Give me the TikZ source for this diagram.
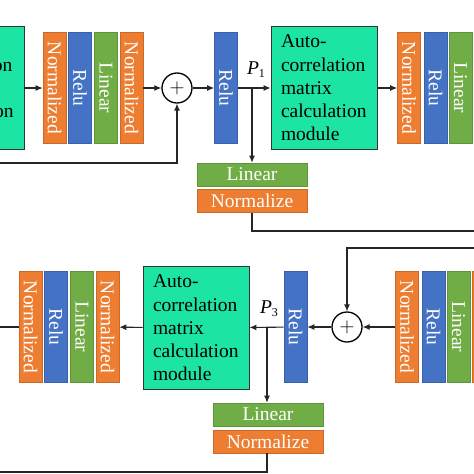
\documentclass[tikz,border=0pt]{standalone}
\usepackage{fontspec}
\setmainfont{Liberation Serif}
\usetikzlibrary{arrows.meta}
\definecolor{cor}{RGB}{237,125,49}
\definecolor{cbl}{RGB}{68,114,196}
\definecolor{cgr}{RGB}{112,173,71}
\definecolor{cte}{RGB}{28,228,165}
\tikzset{
  bar/.style={minimum width=23pt, minimum height=111pt, inner sep=0pt, text=white,
    font=\fontsize{19.5}{23}\selectfont, line width=0.6pt},
  ob/.style={bar, fill=cor, draw=cor!85!black},
  bb/.style={bar, fill=cbl, draw=cbl!85!black},
  gb/.style={bar, fill=cgr, draw=cgr!85!black},
  hbar/.style={minimum width=110pt, minimum height=23pt, inner sep=0pt, text=white,
    font=\fontsize{19.5}{23}\selectfont, line width=0.6pt},
  acm/.style={fill=cte, draw=black!80, line width=0.9pt, minimum width=106pt,
    minimum height=123pt, text width=86pt, inner xsep=10pt, inner ysep=0pt, align=left,
    font=\fontsize{19.5}{23.3}\selectfont},
  plus/.style={circle, draw=black, line width=1.3pt, fill=white, minimum size=30pt,
    inner sep=0pt, font=\fontsize{20}{20}\selectfont},
  conn/.style={line width=1.1pt, draw=black!85},
  arr/.style={conn, -{Latex[length=7pt,width=6pt]}},
  plab/.style={font=\fontsize{19.5}{20}\selectfont}
}
\newcommand{\acmtext}{Auto-\\correlation\\matrix\\calculation\\module}
\newcommand{\vt}[1]{\rotatebox{-90}{#1}}
\begin{document}
\begin{tikzpicture}[x=1pt,y=-1pt]
\useasboundingbox (0,0) rectangle (474,474);
\clip (0,0) rectangle (474,474);
% top row
\node[acm] (a0) at (-29,88) {\acmtext};
\node[ob] (n1) at (54.5,88) {\vt{Normalized}};
\node[bb] (r1) at (80,88) {\vt{Relu}};
\node[gb] (l1) at (106,88) {\vt{Linear}};
\node[ob] (n2) at (131.5,88) {\vt{Normalized}};
\node[plus] (c1) at (177,88) {$+$};
\node[bb] (r2) at (226,88) {\vt{Relu}};
\node[acm] (a1) at (324,88) {\acmtext};
\node[ob] (n3) at (409,88) {\vt{Normalized}};
\node[bb] (r3) at (435.5,88) {\vt{Relu}};
\node[gb] (l3) at (460.5,88) {\vt{Linear}};
\node[hbar, fill=cgr, draw=cgr!85!black] (lin1) at (252,174.5) {Linear};
\node[hbar, fill=cor, draw=cor!85!black] (nor1) at (252,201) {Normalize};
\coordinate (p1) at (252,88);
\node[plab] (P1) at (256,70) {\textit{P}\raisebox{-0.35ex}{\fontsize{12}{12}\selectfont 1}};
\coordinate (L1) at (-5,163);
\coordinate (R1) at (480,231);
% bottom row
\node[ob] (bn1) at (30.5,327) {\vt{Normalized}};
\node[bb] (br1) at (56,327) {\vt{Relu}};
\node[gb] (bl1) at (82,327) {\vt{Linear}};
\node[ob] (bn2) at (107.5,327) {\vt{Normalized}};
\node[acm] (a2) at (196,328) {\acmtext};
\node[bb] (br2) at (295.5,327) {\vt{Relu}};
\node[plus] (c2) at (347,327) {$+$};
\node[ob] (bn3) at (407,327) {\vt{Normalized}};
\node[bb] (br3) at (433.5,327) {\vt{Relu}};
\node[gb] (bl3) at (458.5,327) {\vt{Linear}};
\node[ob] (bn4) at (483.5,327) {\vt{Normalized}};
\node[hbar, fill=cgr, draw=cgr!85!black] (lin2) at (268,414.5) {Linear};
\node[hbar, fill=cor, draw=cor!85!black] (nor2) at (268,441.5) {Normalize};
\coordinate (p3) at (267,327);
\node[plab] (P3) at (269,309) {\textit{P}\raisebox{-0.35ex}{\fontsize{12}{12}\selectfont 3}};
\coordinate (R2) at (480,248);
\coordinate (L2) at (-5,472);
\coordinate (L3) at (-5,327);
% connectors top
\draw[arr] (a0) -- (n1);
\draw[arr] (n2) -- (c1);
\draw[arr] (c1) -- (r2);
\draw[arr] (r2) -- (a1);
\draw[arr] (a1) -- (n3);
\draw[arr] (p1) -- (lin1);
\draw[arr] (L1) -| (c1);
\draw[conn] (nor1) |- (R1);
% connectors bottom
\draw[arr] (R2) -| (c2);
\draw[arr] (bn3) -- (c2);
\draw[arr] (c2) -- (br2);
\draw[arr] (br2) -- (a2);
\draw[arr] (a2) -- (bn2);
\draw[arr] (p3) -- (lin2.north -| p3);
\draw[conn] (bn1) -- (L3);
\draw[conn] (nor2.south -| p3) |- (L2);
\end{tikzpicture}
\end{document}
